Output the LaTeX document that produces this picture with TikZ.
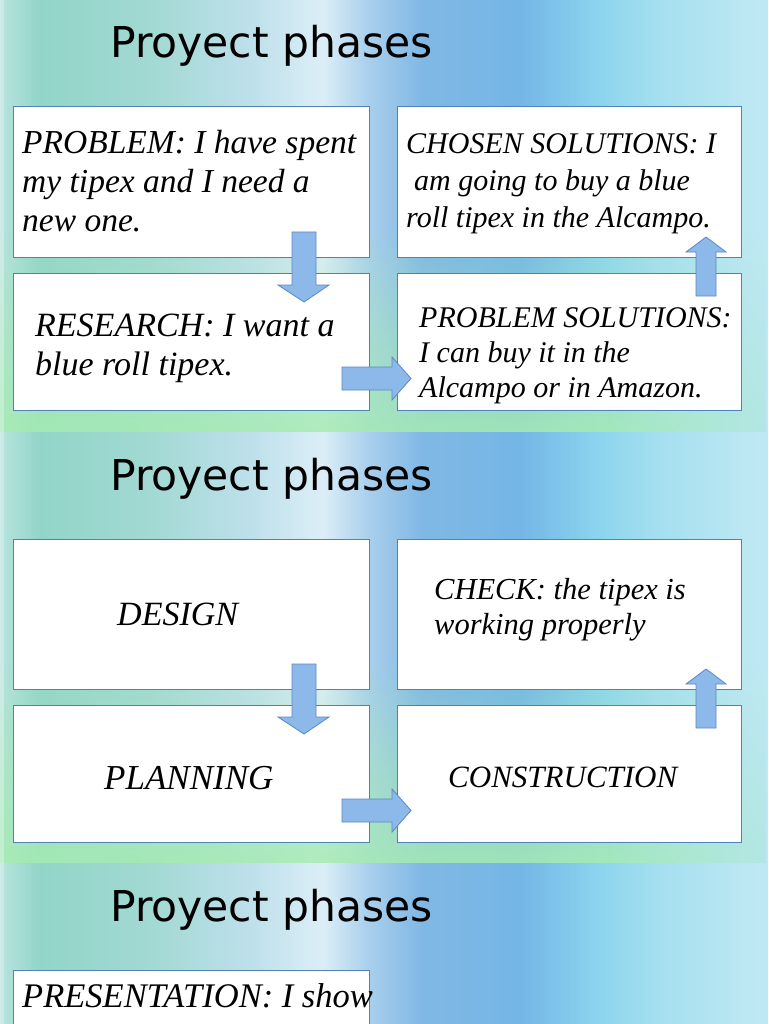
\documentclass[tikz,border=0pt]{standalone}
\usepackage{fontspec}
\setmainfont{Liberation Serif}
\newfontfamily\titlefont{DejaVu Sans}
\usetikzlibrary{fadings}
\definecolor{bgA}{HTML}{B8E3DE}
\definecolor{bgB}{HTML}{92D5C8}
\definecolor{bgC}{HTML}{A2D9D3}
\definecolor{bgD}{HTML}{BDE0EA}
\definecolor{bgE}{HTML}{DCEEF7}
\definecolor{bgE2}{HTML}{A9CFEC}
\definecolor{bgF}{HTML}{80B8E5}
\definecolor{bgG}{HTML}{74B6E6}
\definecolor{bgH}{HTML}{8CD5EE}
\definecolor{bgI}{HTML}{B4E5F2}
\definecolor{bgJ}{HTML}{E0F3F8}
\definecolor{bggreen}{HTML}{A6EBB2}
\definecolor{boxline}{HTML}{4F81BD}
\definecolor{arrowfill}{HTML}{8DB8EA}
\definecolor{arrowline}{HTML}{5A88C6}
\pgfdeclarehorizontalshading{slidebg}{100bp}{color(0bp)=(bgA); color(25bp)=(bgA);
 color(27.6bp)=(bgB); color(34.8bp)=(bgC); color(41.3bp)=(bgD); color(46bp)=(bgE);
 color(49bp)=(bgE2); color(52.5bp)=(bgF); color(58.9bp)=(bgG); color(64.1bp)=(bgH); color(71.9bp)=(bgI);
 color(75bp)=(bgJ); color(100bp)=(bgJ)}
\tikzfading[name=fadeup, top color=transparent!100, bottom color=transparent!15]
\tikzfading[name=fadeleft, left color=transparent!100, right color=transparent!25]
\tikzset{
 box/.style={draw=boxline, fill=white, line width=1pt, inner sep=0pt, outer sep=0pt, anchor=north west},
 wide/.style={minimum width=356pt},
 narrow/.style={minimum width=344pt},
 tall/.style={minimum height=150pt},
 short/.style={minimum height=137pt},
 txt/.style={inner sep=0pt, anchor=base west, text=black},
 titletxt/.style={inner sep=0pt, anchor=base west, text=black, font=\titlefont\fontsize{42.5}{50}\selectfont},
 blockarrow/.style={fill=arrowfill, draw=arrowline, line width=0.8pt, line join=miter},
 slidebgstyle/.style={shading=slidebg}
}
\newcommand\slideback{%
 \shade[slidebgstyle] (0,0) rectangle (768,432);
 \fill[bggreen, path fading=fadeup] (0,230) rectangle (768,432);
 \fill[bgI, path fading=fadeleft] (600,0) rectangle (768,432);
 \fill[white, opacity=0.3] (0,0) rectangle (4,432);
}
\newcommand\slidearrows{%
 \draw[blockarrow] (292,232) -- (316,232) -- (316,285) -- (329,285) -- (304,302) -- (278,285) -- (292,285) -- cycle;
 \draw[blockarrow] (342,367) -- (392,367) -- (392,357) -- (411,378.5) -- (392,400) -- (392,390) -- (342,390) -- cycle;
 \draw[blockarrow] (696,296) -- (696,252) -- (686,252) -- (706,237) -- (726,252) -- (716,252) -- (716,296) -- cycle;
}
\begin{document}
\begin{tikzpicture}[x=1pt,y=-1pt]
\clip (0,0) rectangle (768,1024);
% ---------- slide 1 ----------
\slideback
\node[titletxt] (t1) at (110,58) {Proyect phases};
\node[box, wide, tall] (A) at (13,107) {};
\node[box, wide, short] (B) at (13,273) {};
\node[box, narrow, tall] (C) at (397,107) {};
\node[box, narrow, short] (D) at (397,273) {};
\slidearrows
\begin{scope}[every node/.append style={font=\fontsize{33.5}{40}\selectfont\itshape}]
\node[txt] (a1) at (22,154) {PROBLEM: I have spent};
\node[txt] (a2) at (22,193) {my tipex and I need a};
\node[txt] (a3) at (22,232) {new one.};
\end{scope}
\begin{scope}[every node/.append style={font=\fontsize{34}{40}\selectfont\itshape}]
\node[txt] (b1) at (35,336) {RESEARCH: I want a};
\node[txt] (b2) at (35,375) {blue roll tipex.};
\end{scope}
\begin{scope}[every node/.append style={font=\fontsize{30}{37}\selectfont\itshape}]
\node[txt] (c1) at (406,154) {CHOSEN SOLUTIONS: I};
\node[txt] (c2) at (414,191) {am going to buy a blue};
\node[txt] (c3) at (406,228) {roll tipex in the Alcampo.};
\node[txt] (d1) at (419,327) {PROBLEM SOLUTIONS:};
\node[txt] (d2) at (419,362) {I can buy it in the};
\node[txt] (d3) at (419,397) {Alcampo or in Amazon.};
\end{scope}
% ---------- slide 2 ----------
\begin{scope}[yshift=-432pt]
\slideback
\node[titletxt] (t2) at (110,58) {Proyect phases};
\node[box, wide, tall] (E) at (13,107) {};
\node[box, wide, short] (F) at (13,273) {};
\node[box, narrow, tall] (G) at (397,107) {};
\node[box, narrow, short] (H) at (397,273) {};
\slidearrows
\node[txt, font=\fontsize{34}{40}\selectfont\itshape] (e1) at (117,193) {DESIGN};
\node[txt, font=\fontsize{35}{40}\selectfont\itshape] (f1) at (104,357) {PLANNING};
\node[txt, font=\fontsize{30.5}{36}\selectfont\itshape] (g1) at (434,167) {CHECK: the tipex is};
\node[txt, font=\fontsize{30.5}{36}\selectfont\itshape] (g2) at (434,202) {working properly};
\node[txt, font=\fontsize{31}{36}\selectfont\itshape] (h1) at (448,355) {CONSTRUCTION};
\end{scope}
% ---------- slide 3 ----------
\begin{scope}[yshift=-863pt]
\slideback
\node[titletxt] (t3) at (110,58) {Proyect phases};
\node[box, wide, tall] (I) at (13,107) {};
\node[txt, font=\fontsize{34.5}{40}\selectfont\itshape] (i1) at (22,144) {PRESENTATION: I show};
\end{scope}
\end{tikzpicture}
\end{document}
